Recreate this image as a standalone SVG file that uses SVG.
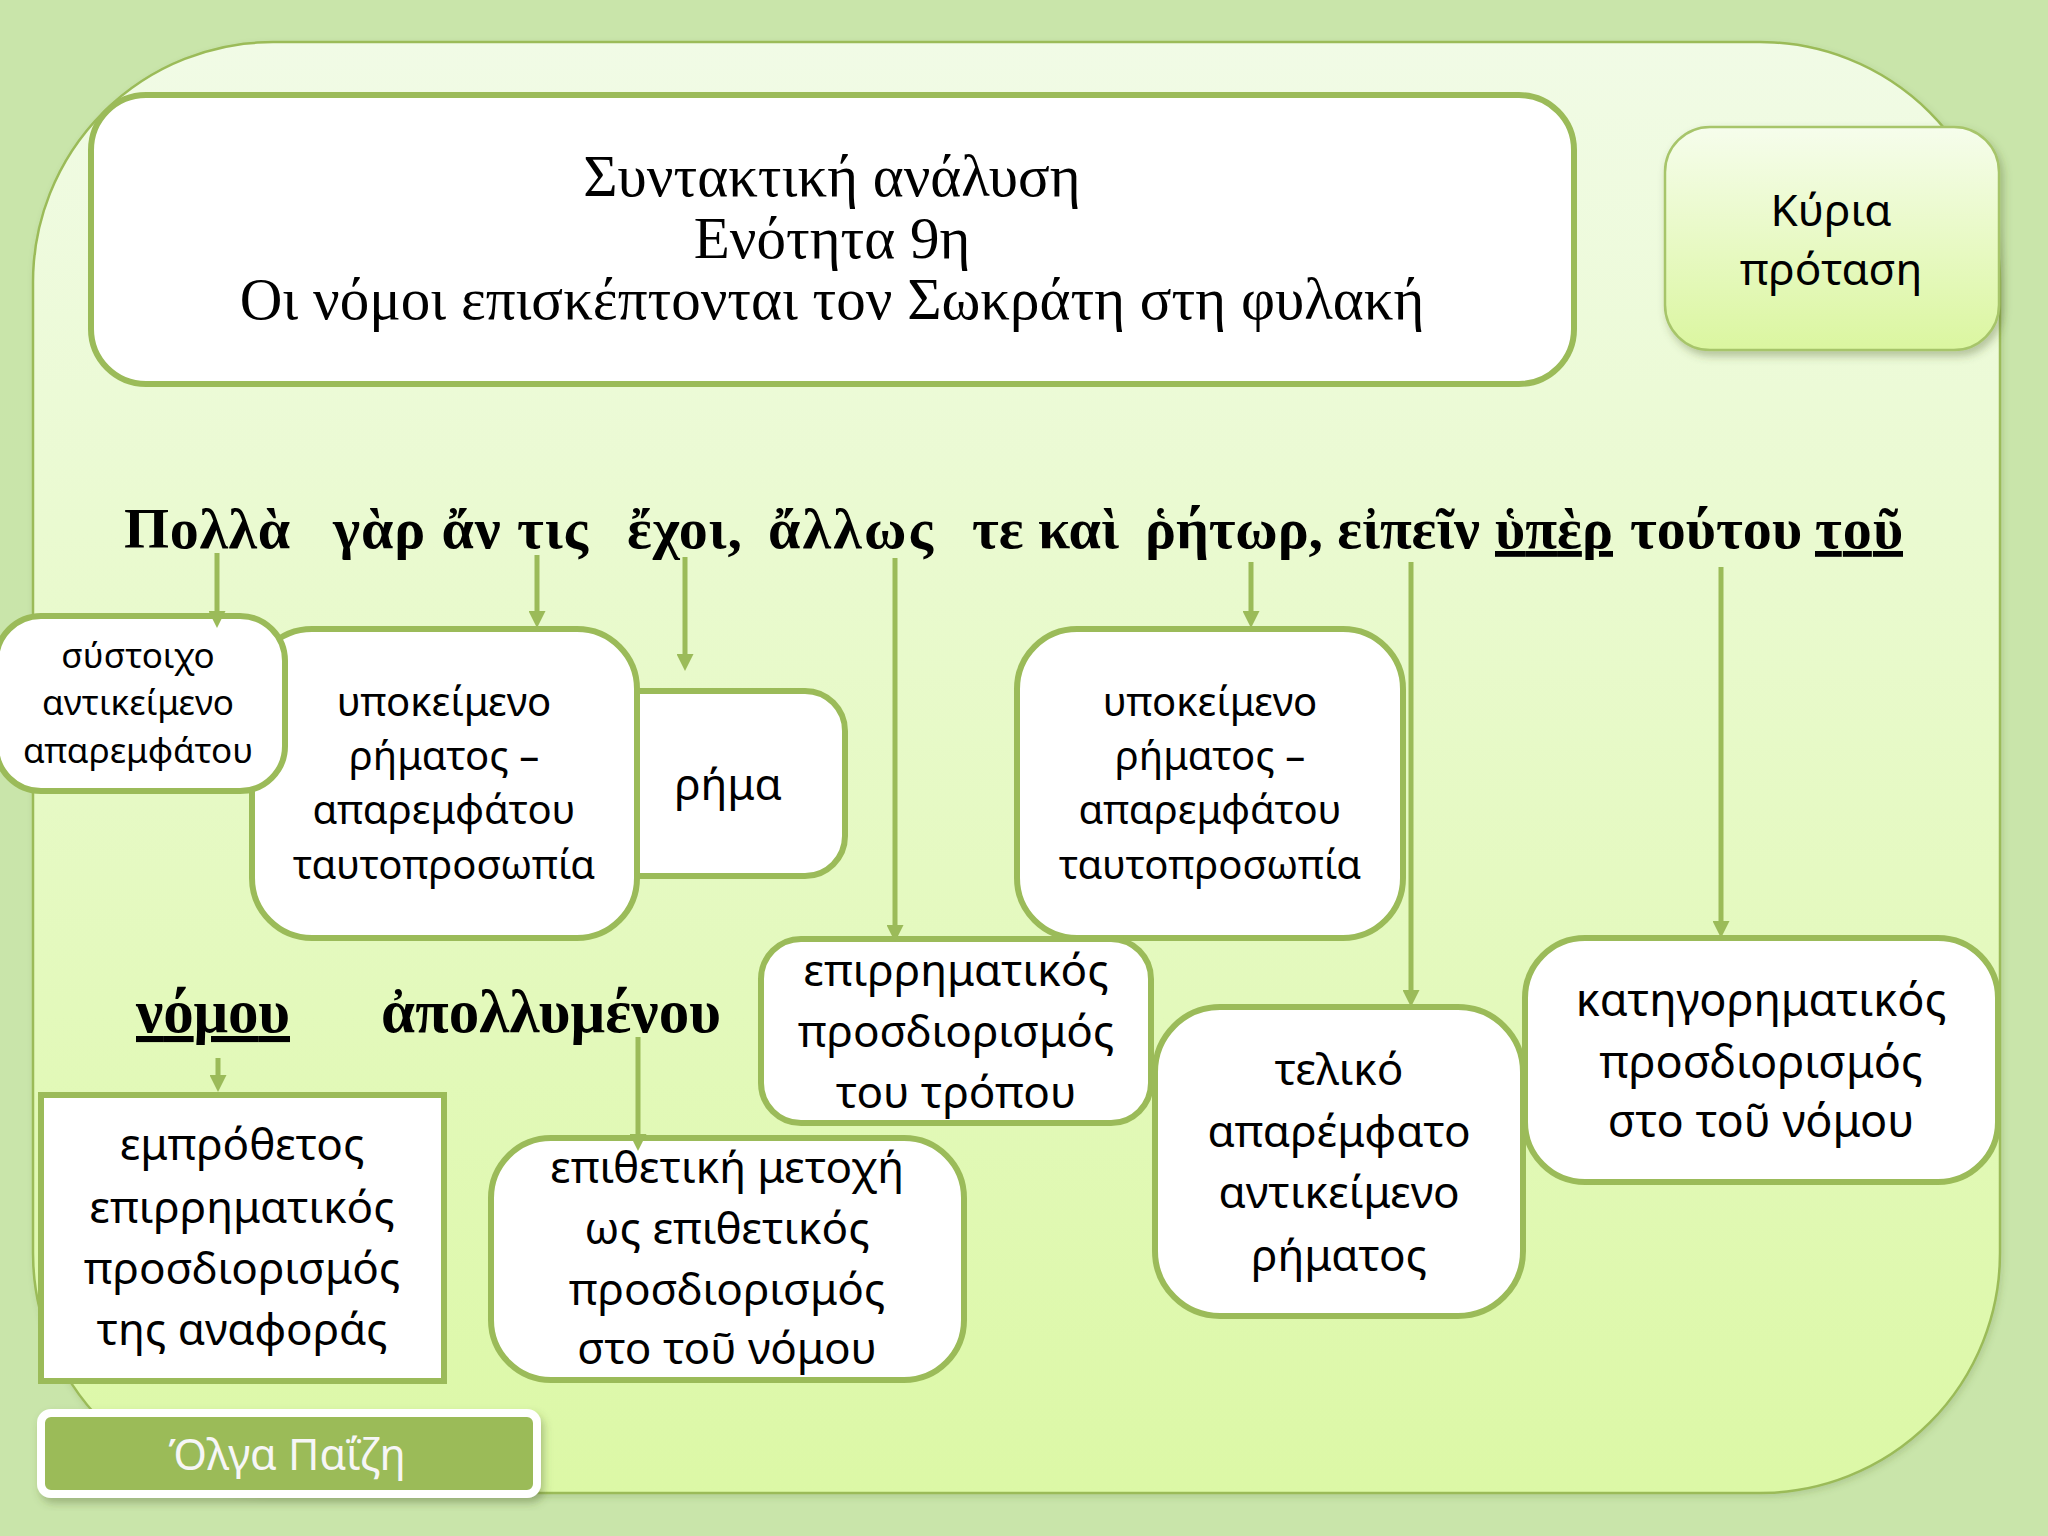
<svg xmlns="http://www.w3.org/2000/svg" width="2048" height="1536" viewBox="0 0 2048 1536">
<defs>
<linearGradient id="panelGrad" x1="0" y1="0" x2="0" y2="1">
<stop offset="0" stop-color="#f1fbe6"/>
<stop offset="1" stop-color="#dcf8a6"/>
</linearGradient>
<linearGradient id="kyriaGrad" x1="0" y1="0" x2="0" y2="1">
<stop offset="0" stop-color="#f6fdec"/>
<stop offset="1" stop-color="#dbf6a0"/>
</linearGradient>
<filter id="shadow" x="-10%" y="-10%" width="130%" height="130%">
<feDropShadow dx="3" dy="5" stdDeviation="4" flood-color="#4a5a2a" flood-opacity="0.35"/>
</filter>
<filter id="softShadow" x="-5%" y="-5%" width="110%" height="110%">
<feDropShadow dx="2" dy="3" stdDeviation="3" flood-color="#4a5a2a" flood-opacity="0.18"/>
</filter>
<marker id="arrow" markerUnits="userSpaceOnUse" markerWidth="17" markerHeight="17" viewBox="0 0 17 17" refX="0" refY="8.5" orient="auto">
<path d="M0,0 L17,8.5 L0,17 z" fill="#9bbb59"/>
</marker>
<style>
.box{fill:#ffffff;stroke:#9bbb59;stroke-width:6}
.sans{font-family:"Noto Sans","Open Sans","DejaVu Sans",sans-serif;fill:#000000;text-anchor:middle}
.title{font-family:"Liberation Serif","DejaVu Serif",serif;font-size:59px;fill:#000000;text-anchor:middle}
.greek{font-family:"Liberation Serif","DejaVu Serif",serif;font-size:58px;font-weight:bold;fill:#000000}
.greek2{font-family:"Liberation Serif","DejaVu Serif",serif;font-size:61px;font-weight:bold;fill:#000000}
.ul{text-decoration:underline}
.conn{stroke:#9bbb59;stroke-width:5;fill:none;marker-end:url(#arrow)}
</style>
</defs>

<rect x="0" y="0" width="2048" height="1536" fill="#c9e5aa"/>
<rect id="panel" x="33" y="42" width="1967" height="1451" rx="240" ry="240" fill="url(#panelGrad)" stroke="#9bbb59" stroke-width="2.5" filter="url(#softShadow)"/>

<g id="title">
<rect x="91" y="95" width="1483" height="289" rx="55" ry="55" class="box"/>
<text class="title" x="832" y="196">Συντακτική ανάλυση</text>
<text class="title" x="832" y="258">Ενότητα 9η</text>
<text class="title" x="832" y="319">Οι νόμοι επισκέπτονται τον Σωκράτη στη φυλακή</text>
</g>

<g id="kyria">
<rect x="1665" y="127" width="334" height="223" rx="45" ry="45" fill="url(#kyriaGrad)" stroke="#a7c56b" stroke-width="2.5" filter="url(#shadow)"/>
<text class="sans" x="1831" y="226" font-size="44">Κύρια</text>
<text class="sans" x="1831" y="285" font-size="44">πρόταση</text>
</g>

<g id="node-rima">
<rect x="600" y="691" width="245" height="185" rx="40" ry="40" class="box"/>
<text class="sans" x="728" y="800" font-size="44">ρήμα</text>
</g>

<g id="node-ypokeimeno1">
<rect x="252" y="629" width="385" height="309" rx="60" ry="60" class="box"/>
<text class="sans" x="444" y="716" font-size="40">υποκείμενο</text>
<text class="sans" x="444" y="770" font-size="40">ρήματος –</text>
<text class="sans" x="444" y="824" font-size="40">απαρεμφάτου</text>
<text class="sans" x="444" y="879" font-size="40">ταυτοπροσωπία</text>
</g>

<g id="node-systoixo">
<rect x="-4" y="616" width="289" height="175" rx="45" ry="45" class="box"/>
<text class="sans" x="138" y="668" font-size="35">σύστοιχο</text>
<text class="sans" x="138" y="715" font-size="35">αντικείμενο</text>
<text class="sans" x="138" y="763" font-size="35">απαρεμφάτου</text>
</g>

<g id="node-ypokeimeno2">
<rect x="1017" y="629" width="386" height="309" rx="60" ry="60" class="box"/>
<text class="sans" x="1210" y="716" font-size="40">υποκείμενο</text>
<text class="sans" x="1210" y="770" font-size="40">ρήματος –</text>
<text class="sans" x="1210" y="824" font-size="40">απαρεμφάτου</text>
<text class="sans" x="1210" y="879" font-size="40">ταυτοπροσωπία</text>
</g>

<g id="node-tropou">
<rect x="761" y="939" width="390" height="184" rx="40" ry="40" class="box"/>
<text class="sans" x="956" y="986" font-size="44">επιρρηματικός</text>
<text class="sans" x="956" y="1047" font-size="44">προσδιορισμός</text>
<text class="sans" x="956" y="1108" font-size="44">του τρόπου</text>
</g>

<g id="node-teliko">
<rect x="1155" y="1007" width="368" height="309" rx="65" ry="65" class="box"/>
<text class="sans" x="1339" y="1085" font-size="44">τελικό</text>
<text class="sans" x="1339" y="1147" font-size="44">απαρέμφατο</text>
<text class="sans" x="1339" y="1208" font-size="44">αντικείμενο</text>
<text class="sans" x="1339" y="1271" font-size="44">ρήματος</text>
</g>

<g id="node-katigorimatikos">
<rect x="1525" y="938" width="473" height="244" rx="60" ry="60" class="box"/>
<text class="sans" x="1761" y="1016" font-size="45">κατηγορηματικός</text>
<text class="sans" x="1761" y="1078" font-size="45">προσδιορισμός</text>
<text class="sans" x="1761" y="1137" font-size="45">στο τοῦ νόμου</text>
</g>

<g id="node-emprothetos">
<rect x="41" y="1095" width="403" height="286" class="box" stroke-width="5"/>
<text class="sans" x="242" y="1160" font-size="44">εμπρόθετος</text>
<text class="sans" x="242" y="1223" font-size="44">επιρρηματικός</text>
<text class="sans" x="242" y="1284" font-size="44">προσδιορισμός</text>
<text class="sans" x="242" y="1345" font-size="44">της αναφοράς</text>
</g>

<g id="node-metoxi">
<rect x="491" y="1138" width="473" height="242" rx="60" ry="60" class="box"/>
<text class="sans" x="727" y="1183" font-size="44">επιθετική μετοχή</text>
<text class="sans" x="727" y="1244" font-size="44">ως επιθετικός</text>
<text class="sans" x="727" y="1305" font-size="44">προσδιορισμός</text>
<text class="sans" x="727" y="1364" font-size="44">στο τοῦ νόμου</text>
</g>

<g id="footer">
<rect x="41" y="1413" width="496" height="81" rx="10" ry="10" fill="#9bbb59" stroke="#ffffff" stroke-width="8" filter="url(#shadow)"/>
<text class="sans" x="287" y="1470" font-size="43" style="fill:#f6f6f6">Όλγα Παΐζη</text>
</g>

<g id="sentence">
<text class="greek" x="124" y="548" textLength="166">Πολλὰ</text>
<text class="greek" x="333" y="548" textLength="255">γὰρ ἄν τις</text>
<text class="greek" x="627" y="548" textLength="115">ἔχοι,</text>
<text class="greek" x="768" y="548" textLength="165">ἄλλως</text>
<text class="greek" x="972" y="548" textLength="147">τε καὶ</text>
<text class="greek" x="1145" y="548" textLength="335">ῥήτωρ, εἰπεῖν</text>
<text class="greek ul" x="1495" y="548" textLength="118">ὑπὲρ</text>
<text class="greek" x="1630" y="548" textLength="172">τούτου</text>
<text class="greek ul" x="1815" y="548" textLength="88">τοῦ</text>
<text class="greek2 ul" x="136" y="1032" textLength="154">νόμου</text>
<text class="greek2" x="381" y="1032" textLength="340">ἀπολλυμένου</text>
</g>

<g id="connectors">
<line class="conn" x1="217" y1="553" x2="217" y2="611"/>
<line class="conn" x1="537" y1="555" x2="537" y2="611"/>
<line class="conn" x1="685" y1="557" x2="685" y2="654"/>
<line class="conn" x1="895" y1="558" x2="895" y2="925"/>
<line class="conn" x1="1251" y1="562" x2="1251" y2="611"/>
<line class="conn" x1="1411" y1="562" x2="1411" y2="990"/>
<line class="conn" x1="1721" y1="567" x2="1721" y2="921"/>
<line class="conn" x1="218" y1="1058" x2="218" y2="1075"/>
<line class="conn" x1="638" y1="1037" x2="638" y2="1134"/>
</g>
</svg>
